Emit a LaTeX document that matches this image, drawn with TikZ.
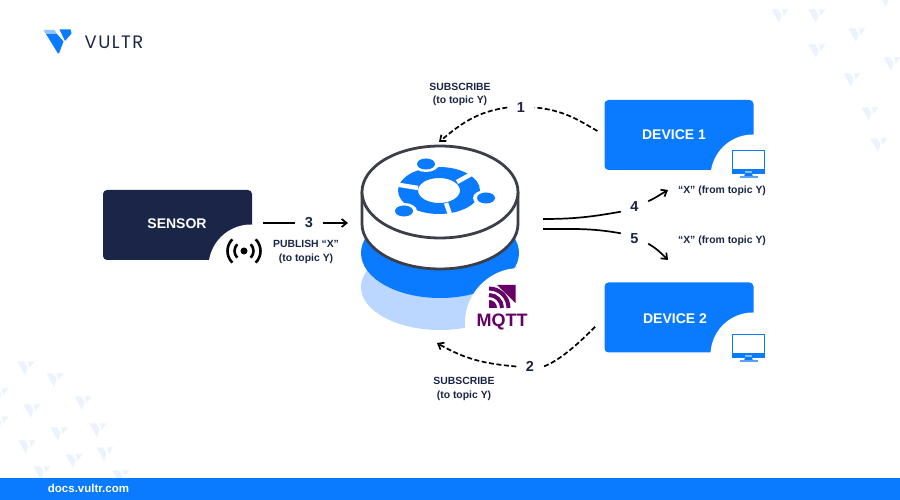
\documentclass[tikz,border=0pt]{standalone}
\usepackage{fontspec}
\setmainfont{Liberation Sans}
\newfontfamily\logofont{Poppins}[LetterSpace=8]
\usetikzlibrary{arrows.meta}

\definecolor{navy}{HTML}{1A2547}
\definecolor{vblue}{HTML}{0A7BFF}
\definecolor{vlight}{HTML}{BBD6FF}
\definecolor{vpale}{HTML}{EAF3FE}
\definecolor{vgrey}{HTML}{3B3F4A}
\definecolor{mqtt}{HTML}{660066}

\tikzset{
  boxnode/.style={shape=rectangle, rounded corners=4pt, minimum width=149pt, minimum height=70pt, inner sep=0pt},
  boxtext/.style={text=white, font=\fontsize{14}{16}\selectfont\bfseries},
  numnode/.style={text=navy, font=\fontsize{14.5}{16}\selectfont\bfseries, minimum width=27pt, text height=10pt, text depth=0pt, inner sep=0pt},
  smalltext/.style={text=navy, align=center, font=\fontsize{10.4}{13.5}\selectfont\bfseries},
  flowline/.style={line width=1.7pt, black, -{Straight Barb[length=5pt,width=8pt,line width=1.7pt]}},
  plainline/.style={line width=1.7pt, black},
  vmark/.pic={
    \fill[vpale] (-8.5,6.5) -- (-2,6.5) -- (1.5,1) -- (-1,-7) -- cycle;
    \fill[vpale] (2,6.5) -- (8.5,6.5) -- (3.5,0) -- cycle;
  },
  monitor/.pic={
    \draw[vblue, line width=1.4pt, fill=white] (-16,0) rectangle (16,22.5);
    \fill[vblue] (-16.7,-1) rectangle (16.7,4);
    \fill[vblue!50] (-3.5,-.5) rectangle (3.5,2);
    \fill[vblue] (-3.5,-1) -- (3.5,-1) -- (4.5,-3.5) -- (-4.5,-3.5) -- cycle;
    \fill[vblue!70] (-9,-5) rectangle (9,-3.5);
  },
}

\begin{document}
\begin{tikzpicture}[x=1pt, y=1pt]
\useasboundingbox (0,0) rectangle (900,500);

% background marks
\foreach \x/\y in {780/484, 817/484, 857/465, 817/449, 892/436, 852/420, 870/386, 879/355, 887/500,
                   26/132, 55/120, 0/105, 83/97, 32/89, 0/77, 59/66, 98/70, 27/53, 105/46, 74/39, 42/27, 121/23}
  \pic at (\x,\y) {vmark};

% footer
\fill[vblue] (0,0) rectangle (900,22);
\node[text=white, font=\fontsize{11.5}{13}\selectfont\bfseries] (footer) at (88.5,12) {docs.vultr.com};

% logo
\fill[vblue] (46,466) -- (57,466) -- (63.5,458.5) -- (59,446.5) -- (58,446.5) -- cycle;
\fill[vblue!45] (43.5,470) -- (54.5,470) -- (57,466) -- (46,466) -- cycle;
\fill[vblue] (59.5,470.5) -- (70.5,470.5) -- (71.5,466.5) -- (65,459) -- cycle;
\node[text=navy, font=\logofont\fontsize{18}{18}\selectfont, inner sep=0pt] (vultr) at (114,458) {VULTR};

% boxes
\node[boxnode, fill=navy] (sensor) at (177.5,275) {};
\node[boxnode, fill=vblue] (device1) at (679,365) {};
\node[boxnode, fill=vblue] (device2) at (679,182.5) {};
\fill[white] (251,233) circle (42.5);
\fill[white] (753,323) circle (42.5);
\fill[white] (753,145) circle (42.5);
\node[boxtext] (sensortext) at (177,276) {SENSOR};
\node[boxtext] (device1text) at (674,365) {DEVICE 1};
\node[boxtext] (device2text) at (675,181) {DEVICE 2};

% icons
\pic at (748.5,327) {monitor};
\pic at (748.5,143) {monitor};
\fill[black] (244,249) circle (3.5);
\foreach \r in {9.5,16.5} {
  \draw[black, line width=2.6pt] (244,249) ++(135:\r) arc[start angle=135, end angle=225, radius=\r];
  \draw[black, line width=2.6pt] (244,249) ++(45:\r) arc[start angle=45, end angle=-45, radius=\r];
}

% broker
\fill[vlight] (440,213) ellipse (79 and 43);
\fill[vblue] (440,247) ellipse (79 and 45);
\fill[white] (520,177) circle (55);
\draw[vgrey, line width=2.8pt, fill=white] (362,308) -- (362,276) arc[start angle=180, end angle=360, x radius=78, y radius=45] -- (518,308);
\draw[vgrey, line width=2.8pt, fill=white] (440,308) ellipse (78 and 46);

% ubuntu mark
\fill[vblue, even odd rule] (439,309.5) ellipse (41 and 23.5) (439,309.5) ellipse (21 and 12.5);
\draw[white, line width=4.4pt] (418,312) -- (394,316);
\draw[white, line width=4.4pt] (457,318) -- (475,328);
\draw[white, line width=4.4pt] (446,297) -- (452,280);
\fill[white] (426,336) ellipse (13 and 8);
\fill[white] (486,302) ellipse (13 and 8);
\fill[white] (404,289) ellipse (13 and 8);
\fill[vblue] (426,336) ellipse (9 and 5.5);
\fill[vblue] (486,302) ellipse (9 and 5.5);
\fill[vblue] (404,289) ellipse (9 and 5.5);

% mqtt mark
\fill[mqtt] (489,192) -- (489,200) arc[start angle=90, end angle=0, radius=8] -- cycle;
\draw[mqtt, line width=4pt] (489,205) arc[start angle=90, end angle=0, radius=13];
\draw[mqtt, line width=4pt] (489,211.5) arc[start angle=90, end angle=0, radius=19.5];
\fill[mqtt] (497,215) -- (515.5,215) -- (515.5,197) -- cycle;
\node[text=mqtt, font=\fontsize{18}{18}\selectfont\bfseries, inner sep=0pt] (mqttname) at (502,178.5) {MQTT};

% numbers and labels
\node[numnode] (num1) at (521,392.5) {1};
\node[numnode] (num2) at (530,133.5) {2};
\node[numnode] (num3) at (309,277) {3};
\node[numnode] (num4) at (634.5,293.5) {4};
\node[numnode] (num5) at (634.5,261.5) {5};
\node[smalltext] (sub1) at (460,405.5) {SUBSCRIBE\\(to topic Y)};
\node[smalltext] (sub2) at (464,111) {SUBSCRIBE\\(to topic Y)};
\node[smalltext] (pub) at (306,248) {PUBLISH “X”\\(to topic Y)};
\node[smalltext] (recv1) at (722,309) {“X” (from topic Y)};
\node[smalltext] (recv2) at (722,259) {“X” (from topic Y)};

\coordinate (brokertop) at (439,358);
\coordinate (brokerbottom) at (437,157);
\coordinate (brokerleft) at (348,277);
\coordinate (brokerright4) at (543,281);
\coordinate (brokerright5) at (543,271);
\coordinate (out4) at (668,310);
\coordinate (out5) at (668,240);

% connectors
\draw[plainline, dashed, dash pattern=on 5pt off 2.5pt, shorten <=8pt] (device1.west) to[out=150, in=-5] (num1.east);
\draw[flowline, dashed, dash pattern=on 5pt off 2.5pt] (num1.west) to[out=188, in=40] (brokertop);
\draw[plainline, dashed, dash pattern=on 5pt off 2.5pt, shorten <=13pt] (device2.west) to[out=-135, in=20, looseness=.7] (num2.east);
\draw[flowline, dashed, dash pattern=on 5pt off 2.5pt] (num2.west) to[out=175, in=-30] (brokerbottom);
\draw[plainline, shorten <=11pt] (sensor.east |- num3) -- (num3.west);
\draw[flowline] (num3.east) -- (brokerleft);
\draw[plainline] (brokerright4) to[out=0, in=190] (num4.south west);
\draw[flowline] (num4.north east) to[out=25, in=210] (out4);
\draw[plainline] (brokerright5) to[out=0, in=170] (num5.north west);
\draw[flowline] (num5.south east) to[out=-30, in=135] (out5);
\end{tikzpicture}
\end{document}
